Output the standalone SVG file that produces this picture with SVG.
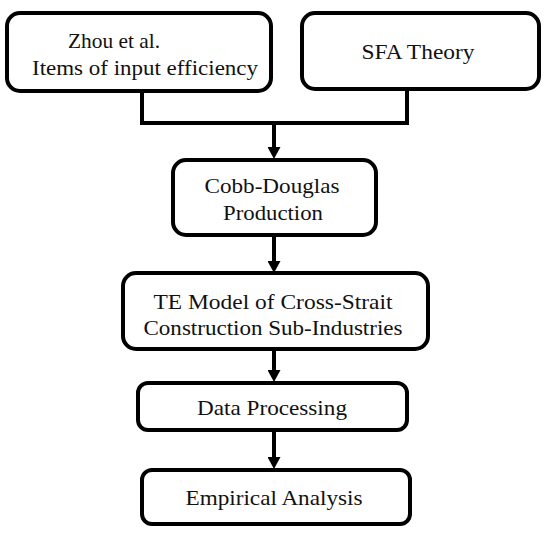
<svg xmlns="http://www.w3.org/2000/svg" width="550" height="537" viewBox="0 0 550 537">
<style>
.box{fill:#fff;stroke:#000;stroke-width:4}
.lbl{font-family:"Liberation Serif","Times New Roman",serif;font-size:22px;fill:#111;text-anchor:middle}
.con{fill:none;stroke:#000;stroke-width:4}
</style>
<defs>
<marker id="ah" markerUnits="userSpaceOnUse" markerWidth="12" markerHeight="13" viewBox="0 0 12 13" refX="1" refY="6.5" orient="auto">
<path d="M0,0 L12,6.5 L0,13 Z" fill="#000"/>
</marker>
</defs>
<rect width="550" height="537" fill="#fff"/>
<g id="connectors">
<path class="con" d="M142,91 V123 H407 V89"/>
<path class="con" d="M274,123 V148" marker-end="url(#ah)"/>
<path class="con" d="M274,235 V262" marker-end="url(#ah)"/>
<path class="con" d="M274,349 V371" marker-end="url(#ah)"/>
<path class="con" d="M274,430 V458" marker-end="url(#ah)"/>
</g>
<g id="zhou">
<rect class="box" x="7" y="13" width="264" height="78" rx="13"/>
<text class="lbl" x="114" y="48" textLength="92" lengthAdjust="spacingAndGlyphs">Zhou et al.</text>
<text class="lbl" x="145" y="75" textLength="226" lengthAdjust="spacingAndGlyphs">Items of input efficiency</text>
</g>
<g id="sfa">
<rect class="box" x="302" y="13" width="237" height="76" rx="13"/>
<text class="lbl" x="418" y="59" textLength="113" lengthAdjust="spacingAndGlyphs">SFA Theory</text>
</g>
<g id="cobb">
<rect class="box" x="173" y="160" width="203" height="75" rx="13"/>
<text class="lbl" x="272" y="193" textLength="135" lengthAdjust="spacingAndGlyphs">Cobb-Douglas</text>
<text class="lbl" x="273" y="220" textLength="100" lengthAdjust="spacingAndGlyphs">Production</text>
</g>
<g id="te">
<rect class="box" x="123" y="273" width="305" height="76" rx="13"/>
<text class="lbl" x="273" y="309" textLength="239" lengthAdjust="spacingAndGlyphs">TE Model of Cross-Strait</text>
<text class="lbl" x="273" y="335" textLength="259" lengthAdjust="spacingAndGlyphs">Construction Sub-Industries</text>
</g>
<g id="data">
<rect class="box" x="138" y="383" width="269" height="47" rx="10"/>
<text class="lbl" x="272" y="415" textLength="150" lengthAdjust="spacingAndGlyphs">Data Processing</text>
</g>
<g id="empirical">
<rect class="box" x="142" y="470" width="268" height="54" rx="10"/>
<text class="lbl" x="274" y="505" textLength="177" lengthAdjust="spacingAndGlyphs">Empirical Analysis</text>
</g>
</svg>
